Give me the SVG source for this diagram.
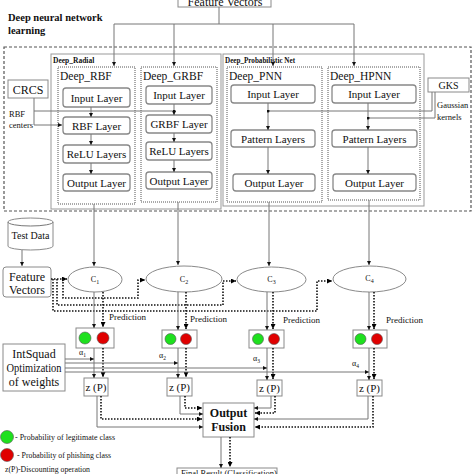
<svg xmlns="http://www.w3.org/2000/svg" width="474" height="474" viewBox="0 0 474 474" font-family="'Liberation Serif', 'Times New Roman', serif">
<defs>
<marker id="ah" viewBox="0 0 6 6" refX="6" refY="3" markerWidth="4" markerHeight="4" orient="auto" markerUnits="userSpaceOnUse"><path d="M0,0L6,3L0,6z" fill="#111"/></marker>
<marker id="ahb" viewBox="0 0 6 6" refX="6" refY="3" markerWidth="5" markerHeight="5" orient="auto" markerUnits="userSpaceOnUse"><path d="M0,0L6,3L0,6z" fill="#000"/></marker>
<marker id="dot" viewBox="0 0 4 4" refX="2" refY="2" markerWidth="3" markerHeight="3" markerUnits="userSpaceOnUse"><circle cx="2" cy="2" r="2" fill="#111"/></marker>
</defs>
<style>
text{font-family:"Liberation Serif","Times New Roman",serif;fill:#111}
.box{fill:#fff;stroke:#8a8a8a;stroke-width:1}
.grp{fill:none;stroke:#999;stroke-width:1}
.dbox{fill:none;stroke:#555;stroke-width:1;stroke-dasharray:1,1}
.outer{fill:none;stroke:#555;stroke-width:1.2;stroke-dasharray:3,2}
.lay{fill:#fff;stroke:#888;stroke-width:1.3}
.s{fill:none;stroke:#777;stroke-width:1}
.sa{fill:none;stroke:#777;stroke-width:1;marker-end:url(#ah)}
.d{fill:none;stroke:#111;stroke-width:1.6;stroke-dasharray:1.5,1.5;marker-end:url(#ahb)}
.lt{font-size:11px;text-anchor:middle}
.c{text-anchor:middle}
.g{fill:#1ee01e;stroke:#555;stroke-width:0.6}
.r{fill:#e00000;stroke:#555;stroke-width:0.6}
</style>
<rect width="474" height="474" fill="#fff"/>

<g id="title">
<text x="8" y="21" font-size="10.5" font-weight="bold">Deep neural network</text>
<text x="8" y="34" font-size="10.5" font-weight="bold">learning</text>
</g>

<g id="feature-vectors-top">
<rect class="box" x="178" y="-10" width="93" height="17"/>
<text x="225" y="6" font-size="12" class="c">Feature Vectors</text>
</g>

<g id="outer-dnn"><rect class="outer" x="4" y="47" width="467" height="164"/></g>

<g id="deep-radial">
<rect class="grp" x="51" y="54" width="170" height="155"/>
<text x="53" y="63" font-size="7.5" font-weight="bold">Deep_Radial</text>
</g>
<g id="deep-prob">
<rect class="grp" x="223" y="54" width="201" height="152"/>
<text x="225" y="63" font-size="7.5" font-weight="bold" textLength="70" lengthAdjust="spacingAndGlyphs">Deep_Probabilistic Net</text>
</g>

<g id="deep-rbf">
<rect class="dbox" x="58" y="67" width="77" height="137"/>
<text x="60" y="80" font-size="11.5">Deep_RBF</text>
<rect class="lay" x="63" y="88" width="67" height="19" rx="3"/><text class="lt" x="96.5" y="101.5">Input Layer</text>
<rect class="lay" x="63" y="117" width="67" height="17" rx="3"/><text class="lt" x="96.5" y="129.5">RBF Layer</text>
<rect class="lay" x="63" y="145" width="67" height="18" rx="3"/><text class="lt" x="96.5" y="158">ReLU Layers</text>
<rect class="lay" x="63" y="174" width="67" height="17" rx="3"/><text class="lt" x="96.5" y="186.5">Output Layer</text>
</g>

<g id="deep-grbf">
<rect class="dbox" x="141" y="67" width="76" height="135"/>
<text x="143" y="80" font-size="11.5">Deep_GRBF</text>
<rect class="lay" x="146" y="86" width="66" height="18" rx="3"/><text class="lt" x="179" y="99">Input Layer</text>
<rect class="lay" x="146" y="115" width="66" height="18" rx="3"/><text class="lt" x="179" y="128">GRBF Layer</text>
<rect class="lay" x="146" y="142" width="66" height="18" rx="3"/><text class="lt" x="179" y="155">ReLU Layers</text>
<rect class="lay" x="146" y="172" width="66" height="17" rx="3"/><text class="lt" x="179" y="184.5">Output Layer</text>
</g>

<g id="deep-pnn">
<rect class="dbox" x="227" y="67" width="95" height="135"/>
<text x="229" y="80" font-size="11.5">Deep_PNN</text>
<rect class="lay" x="231" y="85" width="84" height="18" rx="3"/><text class="lt" x="273" y="98">Input Layer</text>
<rect class="lay" x="231" y="130" width="84" height="17" rx="3"/><text class="lt" x="273" y="142.5">Pattern Layers</text>
<rect class="lay" x="233" y="174" width="82" height="17" rx="3"/><text class="lt" x="274" y="186.5">Output Layer</text>
</g>

<g id="deep-hpnn">
<rect class="dbox" x="328" y="67" width="92" height="133"/>
<text x="330" y="80" font-size="11.5">Deep_HPNN</text>
<rect class="lay" x="332" y="85" width="84" height="18" rx="3"/><text class="lt" x="374" y="98">Input Layer</text>
<rect class="lay" x="332" y="130" width="85" height="17" rx="3"/><text class="lt" x="374.5" y="142.5">Pattern Layers</text>
<rect class="lay" x="333" y="174" width="83" height="17" rx="3"/><text class="lt" x="374.5" y="186.5">Output Layer</text>
</g>

<g id="crcs">
<rect class="box" x="8" y="80" width="40" height="18"/>
<text x="28" y="93.5" font-size="12" class="c">CRCS</text>
<text x="9" y="117" font-size="8.5">RBF</text>
<text x="9" y="128" font-size="8.5">centers</text>
</g>

<g id="gks">
<rect class="box" x="428" y="78" width="41" height="14"/>
<text x="448.5" y="89" font-size="10" class="c">GKS</text>
<text x="437" y="108" font-size="8.5">Gaussian</text>
<text x="437" y="120" font-size="8.5">kernels</text>
</g>

<g id="test-data">
<path class="box" d="M8,222 A22.5,4 0 0,1 53,222 V246 A22.5,4 0 0,1 8,246 Z"/>
<path class="s" d="M8,222 A22.5,4 0 0,0 53,222"/>
<text x="30.5" y="239" font-size="10" class="c">Test Data</text>
</g>

<g id="feature-vectors">
<rect class="box" x="3" y="267" width="48" height="30" rx="3"/>
<text x="27" y="281" font-size="12" class="c">Feature</text>
<text x="27" y="294" font-size="12" class="c">Vectors</text>
</g>

<g id="c1"><ellipse class="box" cx="95" cy="279.5" rx="27" ry="12.5"/><text x="95" y="282" font-size="8" class="c">C<tspan font-size="6" dy="1.5">1</tspan></text></g>
<g id="c2"><ellipse class="box" cx="184" cy="279" rx="38" ry="13"/><text x="184" y="282" font-size="8" class="c">C<tspan font-size="6" dy="1.5">2</tspan></text></g>
<g id="c3"><ellipse class="box" cx="271.5" cy="279.5" rx="34.5" ry="12.5"/><text x="271.5" y="282" font-size="8" class="c">C<tspan font-size="6" dy="1.5">3</tspan></text></g>
<g id="c4"><ellipse class="box" cx="369.5" cy="279" rx="36.5" ry="13"/><text x="369.5" y="281" font-size="8" class="c">C<tspan font-size="6" dy="1.5">4</tspan></text></g>

<g id="pred1"><rect class="box" x="76" y="328" width="38" height="20"/><circle class="g" cx="85" cy="338" r="6"/><circle class="r" cx="103" cy="338" r="6"/></g>
<g id="pred2"><rect class="box" x="162" y="330" width="35" height="18"/><circle class="g" cx="170.5" cy="339" r="5.5"/><circle class="r" cx="186" cy="339" r="5.5"/></g>
<g id="pred3"><rect class="box" x="249" y="330" width="35" height="18"/><circle class="g" cx="258" cy="339" r="5.5"/><circle class="r" cx="274" cy="339" r="5.5"/></g>
<g id="pred4"><rect class="box" x="353" y="330" width="34" height="18"/><circle class="g" cx="360.5" cy="339" r="5.5"/><circle class="r" cx="377" cy="339" r="5.5"/></g>

<g id="intsquad">
<rect class="box" x="3" y="344" width="62" height="47"/>
<text x="34" y="358" font-size="12" class="c">IntSquad</text>
<text x="34" y="372" font-size="12" class="c" textLength="55" lengthAdjust="spacingAndGlyphs">Optimization</text>
<text x="34" y="386" font-size="12" class="c">of weights</text>
</g>

<g id="zp1"><rect class="box" x="84" y="378" width="24" height="18"/><text x="96" y="391" font-size="11" class="c">z (P)</text></g>
<g id="zp2"><rect class="box" x="167" y="378" width="25" height="18"/><text x="179.5" y="391" font-size="11" class="c">z (P)</text></g>
<g id="zp3"><rect class="box" x="257" y="380" width="25" height="16"/><text x="269.5" y="392" font-size="11" class="c">z (P)</text></g>
<g id="zp4"><rect class="box" x="357" y="380" width="25" height="16"/><text x="369.5" y="392" font-size="11" class="c">z (P)</text></g>

<g id="output-fusion">
<rect class="box" x="203" y="403" width="51" height="34"/>
<text x="228.5" y="417" font-size="12" font-weight="bold" class="c">Output</text>
<text x="228.5" y="431" font-size="12" font-weight="bold" class="c">Fusion</text>
</g>

<g id="final">
<rect class="box" x="177" y="468" width="100" height="20"/>
<text x="181" y="476" font-size="8.5">Final Result (Classification)</text>
</g>

<g id="legend">
<circle class="g" cx="7" cy="437" r="6.5"/>
<text x="15" y="440" font-size="9" textLength="100" lengthAdjust="spacingAndGlyphs">- Probability of legitimate class</text>
<circle class="r" cx="7" cy="455" r="6.5"/>
<text x="17" y="458" font-size="9" textLength="94" lengthAdjust="spacingAndGlyphs">- Probability of phishing class</text>
<text x="5" y="472" font-size="8.5" textLength="85" lengthAdjust="spacingAndGlyphs">z(P)-Discounting operation</text>
</g>

<g id="connectors">
<path class="s" d="M219,7 V24"/>
<path class="s" d="M114,24 H354"/>
<path class="sa" d="M114,24 V66"/>
<path class="sa" d="M174,24 V66"/>
<path class="sa" d="M273,24 V66"/>
<path class="sa" d="M354,24 V66"/>

<path class="sa" d="M91,107 V117"/>
<path class="sa" d="M91,134 V145"/>
<path class="sa" d="M91,163 V174"/>
<path class="sa" d="M174,104 V115"/>
<path class="sa" d="M174,133 V142"/>
<path class="sa" d="M174,160 V172"/>
<path class="sa" d="M268,103 V130"/>
<path class="sa" d="M268,147 V174"/>
<path class="sa" d="M368,103 V130"/>
<path class="sa" d="M368,147 V174"/>

<path class="sa" d="M34,98 V125 H62"/>
<path class="s" d="M34,111 H174" marker-end="url(#dot)"/>
<path class="s" d="M432,92 V111 H268" marker-end="url(#dot)"/>
<path class="s" d="M435,92 V118 H368" marker-end="url(#dot)"/>

<path class="sa" d="M94,204 V266"/>
<path class="sa" d="M178,202 V265"/>
<path class="sa" d="M269,202 V266"/>
<path class="sa" d="M369,200 V265"/>
<path class="sa" d="M22,250 V266"/>

<path class="d" d="M51,279 H67"/>
<path class="d" d="M63,279 V298 H138 V280 H145"/>
<path class="d" d="M57,279 V305 H223 V281 H236"/>
<path class="d" d="M53,279 V311 H317 V281 H332"/>

<path class="sa" d="M94,292 V328"/>
<path class="d" d="M103,292 V327"/>
<path class="sa" d="M178,292 V330"/>
<path class="d" d="M186,292 V329"/>
<path class="sa" d="M267,292 V330"/>
<path class="d" d="M273,292 V329"/>
<path class="sa" d="M369,292 V330"/>
<path class="d" d="M374,292 V329"/>

<path class="sa" d="M94,348 V378"/>
<path class="d" d="M103,348 V377"/>
<path class="sa" d="M178,348 V378"/>
<path class="d" d="M186,348 V377"/>
<path class="sa" d="M267,348 V380"/>
<path class="d" d="M273,348 V379"/>
<path class="sa" d="M369,348 V380"/>
<path class="d" d="M374,348 V379"/>

<path class="sa" d="M65,359 H94"/>
<path class="sa" d="M65,363 H178"/>
<path class="sa" d="M65,368 H267"/>
<path class="sa" d="M65,372 H369"/>

<path class="sa" d="M97,396 V427 H203"/>
<path class="d" d="M101,396 V419 H202"/>
<path class="sa" d="M180,396 V414 H203"/>
<path class="d" d="M185,396 V408 H202"/>
<path class="sa" d="M271,396 V408 H254"/>
<path class="d" d="M275,396 V413 H255"/>
<path class="sa" d="M368,396 V419 H254"/>
<path class="d" d="M373,396 V427 H255"/>

<path class="sa" d="M221,437 V468"/>
<path class="d" d="M230,437 V467"/>
</g>

<g id="labels">
<text x="109" y="320" font-size="9">Prediction</text>
<text x="190" y="322" font-size="9">Prediction</text>
<text x="283" y="323" font-size="9">Prediction</text>
<text x="386" y="323" font-size="9">Prediction</text>
<text x="79" y="355" font-size="8">α<tspan font-size="5.5" dy="1.5">1</tspan></text>
<text x="159" y="358" font-size="8">α<tspan font-size="5.5" dy="1.5">2</tspan></text>
<text x="253" y="361" font-size="8">α<tspan font-size="5.5" dy="1.5">3</tspan></text>
<text x="352" y="366" font-size="8">α<tspan font-size="5.5" dy="1.5">4</tspan></text>
</g>
</svg>
